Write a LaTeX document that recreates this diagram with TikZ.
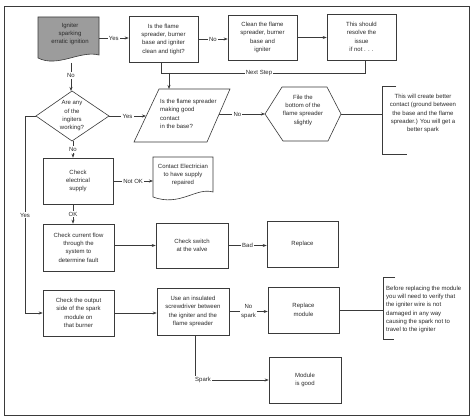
\documentclass[tikz,border=0pt]{standalone}
\usepackage{fontspec}
\setmainfont{Liberation Sans}
\usetikzlibrary{arrows.meta,calc}
\definecolor{linec}{HTML}{3A3A3A}
\definecolor{txtc}{HTML}{2A2A2A}
\definecolor{docgray}{HTML}{9C9C9C}
\begin{document}
\begin{tikzpicture}[x=1pt,y=-1pt,
  every node/.style={text=txtc, font=\fontsize{6}{8.3}\selectfont},
  bx/.style 2 args={draw=linec, line width=0.6pt, fill=white, align=center, inner sep=0pt, minimum width=#1, minimum height=#2},
  txt/.style={align=center, inner sep=0pt},
  lbl/.style={fill=white, inner sep=1.2pt, align=center},
  ln/.style={draw=linec, line width=0.6pt},
  arr/.style={draw=linec, line width=0.6pt, -{Stealth[length=4pt,width=3pt]}}]
\useasboundingbox (0,0) rectangle (474,420);
\fill[white] (0,0) rectangle (474,420);
\draw[line width=0.9pt, draw=linec] (4,6) rectangle (469,415);

% igniter document
\draw[ln, fill=docgray] (38,17) -- (99,17) -- (99,55) .. controls (80,50) and (58,68) .. (38,58) -- cycle;
\node[txt] (ign) at (70,34) {Igniter\\sparking\\erratic ignition};
\coordinate (ignR) at (99,38);
\coordinate (ignB) at (71,63);

% top row boxes
\node[bx={69pt}{46pt}] (b2) at (163.5,39) {Is the flame\\spreader, burner\\base and igniter\\clean and tight?};
\node[bx={69pt}{45pt}] (b3) at (262.5,37.5) {Clean the flame\\spreader, burner\\base and\\igniter};
\node[bx={69pt}{46pt}] (b4) at (361.5,37) {This should\\resolve the\\issue\\if not . . .};

% diamond
\draw[ln] (72,91) -- (109,116) -- (72,141) -- (36,116) -- cycle;
\node[txt] (dia) at (72,116) {Are any\\of the\\ingiters\\working?};
\coordinate (dT) at (72,91);
\coordinate (dR) at (109,116);
\coordinate (dB) at (73,141);
\coordinate (dL) at (36,116);

% parallelogram
\draw[ln] (159,89) -- (230,89) -- (207,142) -- (134,142) -- cycle;
\node[txt, align=left, anchor=west] (par) at (160,114) {Is the flame spreader\\making good\\contact\\in the base?};
\coordinate (parT) at (169,89);
\coordinate (parL) at (146,116);
\coordinate (parR) at (219,114);

% hexagon
\draw[ln] (265,114) -- (282,87) -- (327,87) -- (341,114) -- (328,141) -- (283,141) -- cycle;
\node[txt] (hex) at (303,110) {File the\\bottom of the\\flame spreader\\slightly};
\coordinate (hexL) at (265,114);
\coordinate (hexR) at (341,114);

% bracket note 1
\draw[ln] (396,86) -- (382,86) -- (382,154) -- (407,154);
\coordinate (br1) at (382,114);
\node[txt] (note1) at (423,113.5) {This will create better\\contact (ground between\\the base and the flame\\spreader.) You will get a\\better spark};

% left column
\node[bx={70pt}{46pt}] (b8) at (78,181) {Check\\electrical\\supply};
\node[bx={71pt}{47pt}] (b11) at (78.5,247.5) {Check current flow\\through the\\system to\\determine fault};
\node[bx={71pt}{46pt}] (b14) at (78.5,313) {Check the output\\side of the spark\\module on\\that burner};

% electrician document
\draw[ln, fill=white] (153,157) -- (213,157) -- (213,192) .. controls (196,187) and (180,207) .. (153,197) -- cycle;
\node[txt] (elec) at (183,175) {Contact Electrician\\to have supply\\repaired};
\coordinate (elecL) at (153,181);

% middle column
\node[bx={72pt}{45pt}] (b12) at (192,245.5) {Check switch\\at the valve};
\node[bx={72pt}{47pt}] (b15) at (193,311.5) {Use an insulated\\screwdriver between\\the igniter and the\\flame spreader};

% right column
\node[bx={71pt}{46pt}] (b13) at (302.5,244) {Replace};
\node[bx={71pt}{46pt}] (b16) at (303.5,310) {Replace\\module};
\node[bx={72pt}{46pt}] (b17) at (305,380) {Module\\is good};

% bracket note 2
\draw[ln] (395,277) -- (383,277) -- (383,339) -- (394,339);
\coordinate (br2) at (383,309);
\node[txt, align=left, anchor=west] (note2) at (386,309.5) {Before replacing the module\\you will need to verify that\\the igniter wire is not\\damaged in any way\\causing the spark not to\\travel to the igniter};

% connectors
\draw[arr] (ignR) -- (ignR -| b2.west) node[lbl, midway] (l1) {Yes};
\draw[arr] (b2.east) -- (b2.east -| b3.west) node[lbl, midway] (l2) {No};
\draw[arr] (b3.east) -- (b3.east -| b4.west);

\coordinate (ns) at (365,73);
\coordinate (j1) at (161,73);
\coordinate (j2) at (169,73);
\draw[ln] (b4.south -| ns) -- (ns) -- (j1);
\draw[ln] (b2.south -| j1) -- (j1);
\draw[arr] (j2) -- (parT);
\node[lbl] (l3) at (259,73) {Next Step};

\draw[arr] (ignB) -- (ignB |- dT) node[lbl, pos=0.45] (l4) {No};
\draw[arr] (dR) -- (parL) node[lbl, midway] (l5) {Yes};
\draw[arr] (parR) -- (hexL) node[lbl, pos=0.4] (l6) {No};
\draw[ln] (hexR) -- (hexR -| br1);

\draw[arr] (dB) -- (dB |- b8.north) node[lbl, midway] (l7) {No};
\draw[arr] (b8.east) -- (elecL) node[lbl, midway] (l8) {Not OK};
\draw[arr] (b8.south -| dB) -- (b11.north -| dB) node[lbl, midway] (l9) {OK};
\draw[arr] (b12.west -| b11.east) -- (b12.west);
\draw[arr] (b12.east) -- (b12.east -| b13.west) node[lbl, midway] (l10) {Bad};

\coordinate (yc) at (25,116);
\draw[arr] (dL) -- (yc) |- (b14.west);
\node[lbl] (l11) at (25,215) {Yes};

\draw[arr] (b14.east) -- (b14.east -| b15.west);
\draw[arr] (b15.east) -- (b15.east -| b16.west) node[lbl, midway] (l12) {No\\spark};
\draw[ln] (b16.east) -- (b16.east -| br2);

\coordinate (sp) at (195,380);
\draw[arr] (b15.south -| sp) -- (sp) -- (sp -| b17.west);
\node[lbl] (l13) at (203,380) {Spark};
\end{tikzpicture}
\end{document}
